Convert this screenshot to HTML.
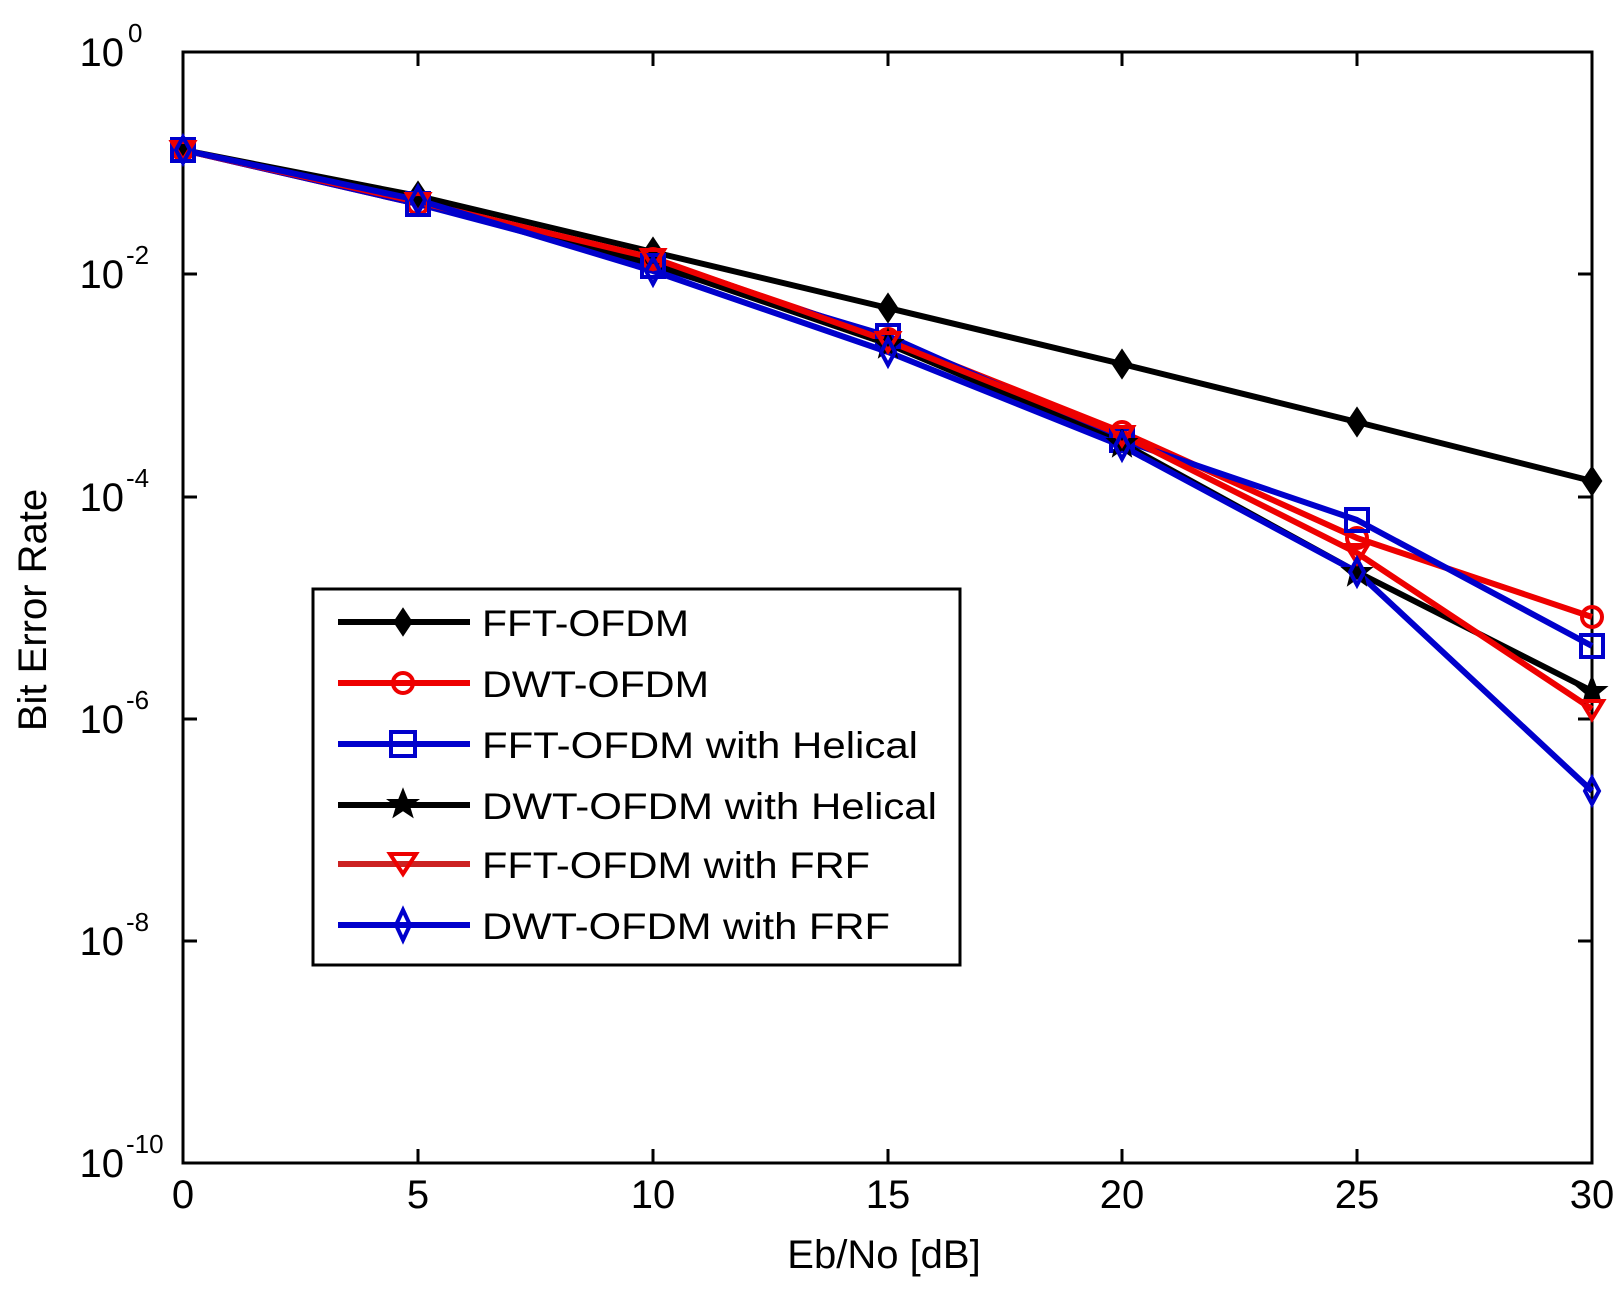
<!DOCTYPE html>
<html><head><meta charset="utf-8"><style>html,body{margin:0;padding:0;background:#fff}svg{display:block}</style></head>
<body>
<svg width="1621" height="1291" viewBox="0 0 1621 1291" xmlns="http://www.w3.org/2000/svg" font-family="Liberation Sans, Arial, sans-serif">
<rect width="1621" height="1291" fill="#fff"/>
<g stroke="#000" stroke-width="3">
<path d="M418 1163v-14M653 1163v-14M888 1163v-14M1122 1163v-14M1357 1163v-14M418 52v14M653 52v14M888 52v14M1122 52v14M1357 52v14"/>
<path d="M183 274h14M183 497h14M183 719h14M183 941h14M1592 274h-14M1592 497h-14M1592 719h-14M1592 941h-14"/>
<rect x="183" y="52" width="1409" height="1111" fill="none"/>
</g>
<g font-size="40" fill="#000" text-anchor="middle">
<text x="183" y="1208">0</text><text x="418" y="1208">5</text><text x="653" y="1208">10</text><text x="888" y="1208">15</text><text x="1122" y="1208">20</text><text x="1357" y="1208">25</text><text x="1592" y="1208">30</text>
</g>
<g font-size="40" fill="#000" text-anchor="end">
<text x="124" y="66">10</text><text x="124" y="288">10</text><text x="124" y="511">10</text><text x="124" y="733">10</text><text x="124" y="955">10</text><text x="124" y="1177">10</text>
</g>
<g font-size="26" fill="#000" text-anchor="start">
<text x="128" y="42">0</text><text x="126" y="264">-2</text><text x="126" y="487">-4</text><text x="126" y="709">-6</text><text x="126" y="931">-8</text><text x="126" y="1153">-10</text>
</g>
<text x="884" y="1268" font-size="40" text-anchor="middle">Eb/No [dB]</text>
<text transform="translate(46,610) rotate(-90)" font-size="40" text-anchor="middle">Bit Error Rate</text>
<g fill="none" stroke-width="6" stroke-linejoin="round">
<polyline stroke="#000" points="183,150 418,196 653,252 888,308 1122,364 1357,422 1592,481"/>
<polyline stroke="#e00" points="183,150 418,204 653,259 888,339 1122,432 1357,538 1592,617"/>
<polyline stroke="#00c" points="183,150 418,204 653,266 888,336 1122,440 1357,520 1592,646"/>
<polyline stroke="#000" points="183,150 418,200 653,264 888,344 1122,443 1357,572 1592,691"/>
<polyline stroke="#e00" points="183,150 418,202 653,258 888,341 1122,435 1357,553 1592,709"/>
<polyline stroke="#00c" points="183,150 418,200 653,271 888,352 1122,446 1357,572 1592,791"/>
</g>
<g stroke-width="4">
<g fill="#000" stroke="#000">
<path d="M183 138l8 12-8 12-8-12z M418 184l8 12-8 12-8-12z M653 240l8 12-8 12-8-12z M888 296l8 12-8 12-8-12z M1122 352l8 12-8 12-8-12z M1357 410l8 12-8 12-8-12z M1592 469l8 12-8 12-8-12z"/>
</g>
<g fill="none" stroke="#e00">
<circle cx="183" cy="150" r="10"/><circle cx="418" cy="204" r="10"/><circle cx="653" cy="259" r="10"/><circle cx="888" cy="339" r="10"/><circle cx="1122" cy="432" r="10"/><circle cx="1357" cy="538" r="10"/><circle cx="1592" cy="617" r="10"/>
</g>
<g fill="none" stroke="#00c">
<rect x="172" y="139" width="22" height="22"/><rect x="407" y="193" width="22" height="22"/><rect x="642" y="255" width="22" height="22"/><rect x="877" y="325" width="22" height="22"/><rect x="1111" y="429" width="22" height="22"/><rect x="1346" y="509" width="22" height="22"/><rect x="1581" y="635" width="22" height="22"/>
</g>
<g fill="#000" stroke="#000">
<path d="M1357 561l3 8h8l-6 5 2 8-7-5-7 5 2-8-6-5h8z M1592 680l3 8h8l-6 5 2 8-7-5-7 5 2-8-6-5h8z M1122 432l3 8h8l-6 5 2 8-7-5-7 5 2-8-6-5h8z M888 333l3 8h8l-6 5 2 8-7-5-7 5 2-8-6-5h8z"/>
</g>
<g fill="none" stroke="#e00">
<path d="M172 142h22l-11 18z M407 194h22l-11 18z M642 250h22l-11 18z M877 333h22l-11 18z M1111 427h22l-11 18z M1346 545h22l-11 18z M1581 701h22l-11 18z"/>
</g>
<g fill="none" stroke="#00c">
<path d="M183 137l7 13-7 13-7-13z M418 187l7 13-7 13-7-13z M653 258l7 13-7 13-7-13z M888 339l7 13-7 13-7-13z M1122 433l7 13-7 13-7-13z M1357 559l7 13-7 13-7-13z M1592 778l7 13-7 13-7-13z"/>
</g>
</g>
<rect x="313" y="589" width="647" height="376" fill="#fff" stroke="#000" stroke-width="3"/>
<g stroke-width="6">
<line x1="338" y1="622" x2="470" y2="622" stroke="#000"/>
<path d="M403 610l8 12-8 12-8-12z" fill="#000" stroke="#000" stroke-width="3"/>
<line x1="338" y1="683" x2="470" y2="683" stroke="#e00"/>
<circle cx="403" cy="683" r="10" fill="none" stroke="#e00" stroke-width="4"/>
<line x1="338" y1="744" x2="470" y2="744" stroke="#00c"/>
<rect x="391" y="732" width="24" height="24" fill="none" stroke="#00c" stroke-width="4"/>
<line x1="338" y1="805" x2="470" y2="805" stroke="#000"/>
<path d="M403 790l4 10h10l-8 6 3 10-9-6-9 6 3-10-8-6h10z" fill="#000" stroke="#000" stroke-width="2"/>
<line x1="338" y1="864" x2="470" y2="864" stroke="#c22"/>
<path d="M390 854h26l-13 20z" fill="none" stroke="#e00" stroke-width="4"/>
<line x1="338" y1="925" x2="470" y2="925" stroke="#00c"/>
<path d="M403 910l7 15-7 15-7-15z" fill="none" stroke="#00c" stroke-width="4"/>
</g>
<g font-size="37" fill="#000">
<text x="482" y="636" textLength="207" lengthAdjust="spacingAndGlyphs">FFT-OFDM</text>
<text x="482" y="697" textLength="227" lengthAdjust="spacingAndGlyphs">DWT-OFDM</text>
<text x="482" y="758" textLength="436" lengthAdjust="spacingAndGlyphs">FFT-OFDM with Helical</text>
<text x="482" y="819" textLength="455" lengthAdjust="spacingAndGlyphs">DWT-OFDM with Helical</text>
<text x="482" y="878" textLength="388" lengthAdjust="spacingAndGlyphs">FFT-OFDM with FRF</text>
<text x="482" y="939" textLength="408" lengthAdjust="spacingAndGlyphs">DWT-OFDM with FRF</text>
</g>
</svg>
</body></html>
